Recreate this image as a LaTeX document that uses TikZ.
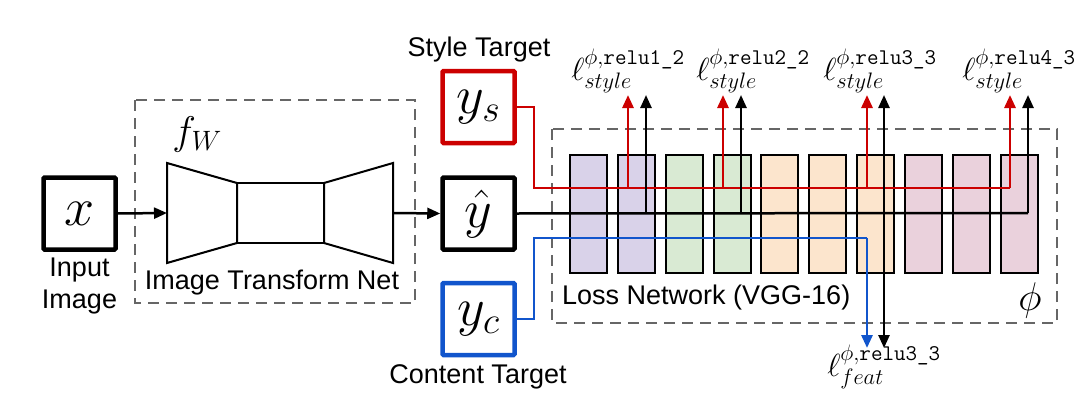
\RequirePackage{fix-cm}
\documentclass[tikz,border=0pt]{standalone}
\usepackage{amsmath}
\usepackage[no-math]{fontspec}
\setmainfont{Liberation Sans}
\usetikzlibrary{arrows.meta}
\definecolor{myred}{HTML}{CC0000}
\definecolor{myblue}{HTML}{1155CC}
\definecolor{dashgray}{HTML}{666666}
\definecolor{cpurple}{HTML}{D9D2E9}
\definecolor{cgreen}{HTML}{D9EAD3}
\definecolor{corange}{HTML}{FCE5CD}
\definecolor{cpink}{HTML}{EAD1DC}
\tikzset{
  tgt/.style={draw, line width=4.5pt, minimum size=72pt, inner sep=0pt, rounded corners=1pt, font=\fontsize{54}{60}\selectfont},
  blk/.style={draw, line width=2pt, minimum width=37pt, minimum height=118pt, inner sep=0pt},
  dbox/.style={draw=dashgray, line width=2.8pt, dash pattern=on 11pt off 7pt},
  arr/.style={line width=2.5pt, -{Triangle[length=13pt,width=11pt]}},
  cline/.style={line width=2.8pt},
  txt/.style={font=\fontsize{27}{32}\selectfont, inner sep=0pt, align=center},
  lab/.style={font=\fontsize{32}{38}\selectfont, inner sep=0pt, anchor=base},
  trap/.style={draw, line width=2pt, line join=miter}
}
\begin{document}
\begin{tikzpicture}[x=1pt,y=-1pt]
\useasboundingbox (0,0) rectangle (1086,404);
% dashed boxes
\draw[dbox] (135,100) rectangle (415,303);
\draw[dbox] (552,129) rectangle (1057,323);
% input
\node[tgt] (x) at (79.5,213.5) {$x$};
\node[txt] (inlab) at (79.5,286) {Input\\Image};
% transform net
\node[font=\fontsize{40}{44}\selectfont, inner sep=0pt] (fw) at (197,134) {$f_W$};
\draw[trap] (167,163) -- (237,183) -- (237,243) -- (167,263) -- cycle;
\draw[trap] (237,183) rectangle (324,243);
\draw[trap] (324,183) -- (393,163) -- (393,263) -- (324,243) -- cycle;
\coordinate (encin) at (167,213);
\coordinate (decout) at (393,213);
\node[txt] (itn) at (272,283) {Image Transform Net};
% targets
\node[tgt, draw=myred] (ys) at (478.5,107) {$y_s$};
\node[tgt] (yh) at (478.5,213.5) {$\hat{y}$};
\node[tgt, draw=myblue] (yc) at (478.5,319) {$y_c$};
\node[txt] (st) at (479,50) {Style Target};
\node[txt] (ct) at (478,377) {Content Target};
% loss network blocks
\foreach \i/\c in {0/cpurple,1/cpurple,2/cgreen,3/cgreen,4/corange,5/corange,6/corange,7/cpink,8/cpink,9/cpink}{
  \node[blk, fill=\c] (b\i) at ({588.5+47.85*\i},214) {};
}
\node[txt, anchor=west] (ln) at (562,298) {Loss Network (VGG-16)};
\node[font=\fontsize{40}{44}\selectfont, inner sep=0pt] (phi) at (1030,300) {$\phi$};
% labels
\node[lab] (l1) at (628,80) {$\ell^{\phi,\texttt{relu1\_2}}_{style}$};
\node[lab] (l2) at (753,80) {$\ell^{\phi,\texttt{relu2\_2}}_{style}$};
\node[lab] (l3) at (880,80) {$\ell^{\phi,\texttt{relu3\_3}}_{style}$};
\node[lab] (l4) at (1019,80) {$\ell^{\phi,\texttt{relu4\_3}}_{style}$};
\node[lab] (lf) at (884,376) {$\ell^{\phi,\texttt{relu3\_3}}_{feat}$};
% arrow end coordinates
\coordinate (r1) at (628,95); \coordinate (k1) at (646,95);
\coordinate (r2) at (723,95); \coordinate (k2) at (741,95);
\coordinate (r3) at (867,95); \coordinate (k3) at (884,95);
\coordinate (r4) at (1010,95); \coordinate (k4) at (1028,95);
\coordinate (bf) at (867,348); \coordinate (kf) at (884,348);
% input arrows
\draw[arr] (x.east) -- (encin);
\draw[arr] (decout) -- (yh.west);
% red style lines
\draw[cline, myred] (ys.east) -| (534,188) -- (1010,188);
\foreach \r in {r1,r2,r3}{ \draw[arr, line width=2.8pt, myred] (\r |- 0,188) -- (\r); }
\draw[arr, line width=2.8pt, myred] (1010,188) -- (r4);
% blue content line
\draw[cline, myblue] (yc.east) -| (534,238) -- (867,238);
\draw[arr, line width=2.8pt, myblue] (867,238) -- (bf);
% black lines
\draw[cline, black, line width=2.5pt] (yh.east) -- (1028,213);
\foreach \k in {k1,k2}{ \draw[arr] (\k |- 0,213) -- (\k); }
\draw[arr] (884,213) -- (k3);
\draw[arr] (1028,213) -- (k4);
\draw[arr] (884,213) -- (kf);
\end{tikzpicture}
\end{document}
